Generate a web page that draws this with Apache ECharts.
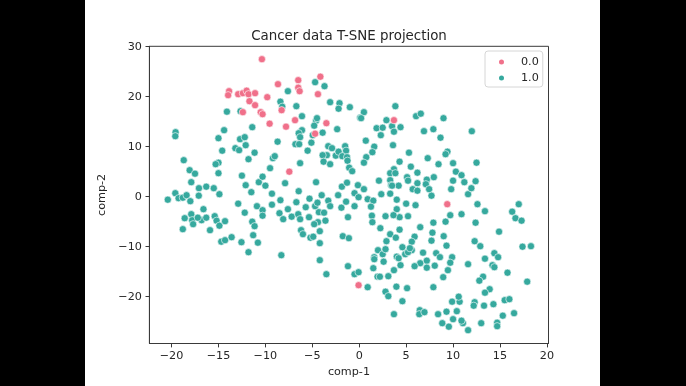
<!DOCTYPE html>
<html>
<head>
<meta charset="utf-8">
<script src="https://cdn.jsdelivr.net/npm/echarts@6/dist/echarts.min.js"></script>
<style>
html,body{margin:0;padding:0;background:#000;}
#wrap{position:absolute;left:85px;top:0;width:515px;height:386px;background:#fff;}
#chart{position:absolute;left:0;top:0;width:686px;height:386px;}
</style>
</head>
<body>
<div id="wrap"></div>
<div id="chart"></div>
<script>
const titleText = 'Cancer data T-SNE projection';
const xName = 'comp-1';
const yName = 'comp-2';
const legendNames = ['0.0', '1.0'];
const xTicks = [-20, -15, -10, -5, 0, 5, 10, 15, 20];
const yTicks = [-20, -10, 0, 10, 20, 30];

const class0 = [
[-10.37,27.5],[-13.87,21.1],[-13.97,20.3],[-12.9,20.5],[-12.4,20.7],[-12.0,21.2],[-11.8,20.5],[-11.1,20.7],
[-12.4,16.9],[-11.7,19.1],[-11.1,18.3],[-10.5,16.9],[-10.3,16.5],[-9.8,19.9],[-9.55,14.6],[-8.66,22.5],[-8.27,17.3],
[-7.8,14.0],[-6.5,23.3],[-6.5,21.8],[-6.35,21.1],[-6.84,15.3],[-7.45,5.0],[-4.14,24.0],[-4.4,20.5],[-4.7,12.6],
[-3.5,14.7],[3.7,15.3],[9.38,-1.5],[-0.07,-17.7]
];

const class1 = [
[-19.57,12.9],[-19.6,12.1],[-18.7,7.3],[-18.07,5.3],[-17.5,4.6],[-17.9,2.9],[-17.08,1.7],[-16.3,2.0],[-15.5,1.7],
[-14.1,17.0],[-14.4,13.3],[-15.0,11.7],[-14.6,9.2],[-15.0,6.8],[-15.3,6.5],[-15.0,4.7],
[-12.65,17.1],[-12.7,11.5],[-12.2,11.9],[-13.2,9.7],[-12.8,9.3],[-12.1,10.3],[-11.4,13.9],[-11.8,7.5],[-11.15,8.8],
[-12.5,4.2],[-12.1,2.3],[-10.7,2.9],[-10.3,4.0],[-10.0,2.2],[-9.5,5.7],[-9.2,7.7],[-9.0,8.1],[-8.7,11.0],
[-8.4,19.0],[-8.2,18.0],[-7.6,21.1],[-7.9,2.7],[-6.7,18.1],[-6.1,16.1],[-6.1,13.3],[-6.45,12.7],[-6.3,11.9],
[-6.8,10.5],[-6.4,10.5],[-6.3,6.7],[-5.5,9.2],[-5.1,10.8],[-4.95,12.3],[-4.6,2.9],[-4.7,22.9],[-3.7,22.1],
[-3.1,18.9],[-2.1,18.7],[-2.2,17.6],[-1.0,17.9],[-4.6,15.2],[-4.5,15.7],[-4.8,14.2],[-3.9,12.8],[-2.35,13.5],
[-3.3,10.1],[-2.9,9.7],[-3.45,8.3],[-3.9,8.3],[-3.8,7.0],[-3.1,6.5],[-2.5,8.2],[-2.2,9.0],[-1.5,10.1],[-1.4,9.2],
[-1.8,8.1],[-1.3,7.9],[-1.25,7.2],[-1.07,5.8],[-0.75,5.1],[-1.85,2.0],[-1.3,2.8],[-0.14,2.3],[0.1,15.8],
[3.85,18.1],[2.9,15.3],[3.5,14.1],[3.7,13.0],[4.4,13.9],[1.85,13.7],[2.5,13.8],[2.3,12.3],[0.5,16.9],[0.2,15.7],
[6.06,16.1],[6.56,16.6],[8.98,15.7],[6.9,13.1],[7.9,13.5],[8.66,11.8],[12.0,13.1],[0.7,11.2],[3.6,10.3],[1.6,10.0],
[1.4,8.9],[0.75,7.9],[0.5,6.8],[5.3,8.8],[4.3,7.0],[7.3,7.7],[9.4,9.0],[9.2,8.5],[8.45,6.5],[10.0,6.7],[12.5,6.8],
[5.5,6.0],[6.2,4.8],[3.7,5.5],[3.3,4.7],[3.85,4.7],[10.3,5.0],[10.9,4.3],[7.95,3.9],[2.1,3.2],[3.3,3.3],[3.4,2.3],
[4.2,2.2],[5.1,3.9],[7.2,3.4],[7.1,2.5],[6.2,2.7],[10.0,3.2],[11.2,2.9],[12.4,3.1],
[-20.4,-0.6],[-19.6,0.7],[-19.25,-0.3],[-18.8,-0.2],[-18.4,0.3],[-18.0,-0.9],[-17.1,0.2],[-14.9,0.5],
[-17.9,-3.5],[-18.6,-4.3],[-17.8,-4.7],[-17.7,-5.5],[-18.8,-6.5],[-16.6,-2.5],[-16.8,-4.7],[-17.2,-4.2],[-16.3,-4.2],
[-15.4,-3.9],[-15.2,-4.8],[-14.9,-5.8],[-15.9,-6.7],[-14.3,-4.9],[-14.7,-9.0],[-14.3,-8.7],[-13.6,-8.1],[-12.55,-9.1],
[-12.9,-1.4],[-12.2,-3.2],[-11.5,0.9],[-10.9,-1.9],[-10.3,-2.7],[-10.3,-3.8],[-11.4,-5.0],[-11.15,-5.9],[-11.3,-7.7],
[-10.8,-9.2],[-11.8,-11.1],[-9.3,0.6],[-9.3,-1.6],[-8.4,-0.7],[-8.5,-3.3],[-8.1,-4.5],[-7.6,-2.5],[-7.2,-4.0],
[-6.7,-1.1],[-6.5,-3.5],[-6.3,-4.5],[-6.45,1.1],[-5.7,-2.1],[-5.35,-4.1],[-5.3,-0.4],[-4.7,-1.9],[-4.45,-1.2],[-4.0,0.3],
[-4.3,-3.1],[-3.75,-3.2],[-4.4,-5.1],[-4.8,-5.5],[-3.6,-4.8],[-6.2,-6.7],[-6.0,-7.5],[-5.2,-8.2],[-4.9,-8.0],
[-4.2,-6.9],[-4.2,-9.3],[-4.2,-12.7],[-3.5,-15.5],[-8.3,-11.7],[-3.3,-0.8],[-3.1,-1.9],[-2.25,0.3],
[-1.9,-2.2],[-1.4,-1.0],[-1.2,-4.1],[-0.5,-1.9],[-0.5,0.7],[-0.07,-0.1],[-1.75,-7.9],[-1.1,-8.3],
[-1.2,-13.9],[-0.5,-15.5],[-0.07,-15.1],
[0.5,1.5],[3.5,2.2],[2.35,0.5],[3.3,0.6],[0.9,-0.5],[1.5,-0.8],[1.25,-2.0],[4.0,-0.6],[5.0,-1.4],[6.0,-1.7],[4.0,-2.5],
[1.35,-3.8],[1.4,-5.1],[2.8,-3.9],[4.3,-4.1],[5.2,-3.9],[3.65,-3.7],[5.2,3.2],[2.25,-6.3],[4.3,-6.6],[3.3,-7.5],[3.9,-8.2],[2.9,-8.9],
[4.6,-10.1],[4.9,-11.5],[5.6,-10.7],[5.2,-11.1],[2.0,-10.7],[2.5,-11.5],[2.8,-10.5],[1.6,-12.1],[1.6,-12.5],
[1.5,-14.3],[2.6,-13.0],[1.95,-16.0],[2.2,-16.0],[4.0,-12.0],[4.2,-12.3],[4.4,-13.7],[3.7,-14.7],[3.1,-15.9],
[0.9,-18.1],[2.8,-19.0],[3.1,-19.9],[3.96,-18.0],[5.1,-18.3],[4.6,-20.9],[3.7,-23.5],
[6.5,-6.1],[7.9,-5.2],[7.8,-7.2],[7.7,-8.8],[5.9,-8.0],[5.6,-9.0],[5.4,-10.3],
[6.8,-11.2],[7.2,-12.8],[6.5,-13.3],[5.9,-13.9],[7.2,-14.2],[7.9,-18.1],[8.2,-11.3],[8.6,-12.1],[8.05,-13.8],
[9.0,-7.9],[9.3,-9.8],[9.2,-5.0],[9.7,-3.7],[10.9,-3.5],[9.9,-12.1],[9.7,-13.2],[9.45,-14.7],[8.95,-16.1],
[11.6,-13.5],[12.4,-5.2],[12.6,-1.5],[13.4,-2.9],[12.3,-8.9],[12.9,-9.9],[13.4,-12.4],
[14.4,-11.3],[14.8,-12.1],[14.2,-13.7],[14.4,-14.1],[14.9,-7.0],[15.8,-15.2],[13.2,-16.0],[12.8,-16.8],[13.9,-18.5],[13.4,-19.2],
[16.3,-3.0],[16.65,-4.3],[17.3,-4.8],[17.0,-1.5],[17.4,-10.0],[18.3,-9.9],[17.9,-17.0],[15.5,-20.7],[16.0,-20.5],
[16.5,-23.3],[15.3,-23.8],[14.7,-25.2],[14.7,-25.9],[14.3,-21.5],[13.3,-21.8],[12.3,-21.1],[12.2,-21.8],[13.0,-25.3],
[11.6,-26.7],[11.05,-25.3],[10.9,-24.8],[10.4,-22.9],[9.9,-21.0],[10.7,-21.0],[10.6,-20.0],[10.0,-24.5],[9.55,-26.0],
[8.85,-25.3],[8.4,-23.5],[9.3,-23.0],[6.45,-22.7],[6.4,-23.5],[6.95,-23.1],
[5.7,1.5],[6.2,1.2],[7.45,1.5],[7.7,0.2],[9.8,1.5],[11.6,0.5],[11.95,1.7]
];

const FONT = 'DejaVu Sans';
const TXT = '#262626';
const AX = '#3a3a3a';
const minus = v => (v < 0 ? '\u2212' + Math.abs(v) : String(v));

const chart = echarts.init(document.getElementById('chart'), null, {renderer: 'canvas'});
chart.setOption({
  animation: false,
  backgroundColor: 'transparent',
  title: {
    text: titleText,
    left: 349, top: 30, padding: 0, textAlign: 'center',
    textStyle: {fontFamily: FONT, fontSize: 13.4, fontWeight: 'normal', color: TXT}
  },
  legend: {
    data: legendNames,
    orient: 'vertical',
    left: 485, top: 51,
    padding: [5, 4, 3, 12],
    itemGap: 4,
    itemWidth: 7, itemHeight: 7,
    icon: 'circle',
    borderColor: '#d6d6d6', borderWidth: 1, borderRadius: 3,
    backgroundColor: 'rgba(255,255,255,0.8)',
    textStyle: {fontFamily: FONT, fontSize: 11.2, color: TXT, lineHeight: 12, padding: [0, 0, 0, 11]}
  },
  grid: {
    left: 149.4, right: 137.5, top: 46.3, bottom: 42.5,
    show: true, borderColor: AX, borderWidth: 1, backgroundColor: 'transparent'
  },
  xAxis: {
    type: 'value', min: -22.36, max: 20.17,
    name: xName, nameLocation: 'middle', nameGap: 21,
    nameTextStyle: {fontFamily: FONT, fontSize: 11.2, color: TXT},
    axisLine: {show: true, onZero: false, lineStyle: {color: AX, width: 1}},
    axisTick: {show: true, length: 3.9, lineStyle: {color: AX, width: 1}, customValues: xTicks},
    axisLabel: {margin: 7.5, fontFamily: FONT, fontSize: 11.2, color: TXT, customValues: xTicks, formatter: minus},
    splitLine: {show: false}
  },
  yAxis: {
    type: 'value', min: -29.36, max: 30.08,
    name: yName, nameLocation: 'middle', nameGap: 25, nameRotate: 90,
    nameTextStyle: {fontFamily: FONT, fontSize: 11.2, color: TXT},
    axisLine: {show: true, onZero: false, lineStyle: {color: AX, width: 1}},
    axisTick: {show: true, length: 3.9, lineStyle: {color: AX, width: 1}, customValues: yTicks},
    axisLabel: {margin: 7.5, fontFamily: FONT, fontSize: 11.2, color: TXT, customValues: yTicks, formatter: minus},
    splitLine: {show: false}
  },
  series: [
    {
      name: legendNames[1], type: 'scatter', data: class1, symbolSize: 7.2, z: 2,
      itemStyle: {color: '#36a99e', borderColor: '#ffffff', borderWidth: 0.6, opacity: 1}
    },
    {
      name: legendNames[0], type: 'scatter', data: class0, symbolSize: 7.2, z: 3,
      itemStyle: {color: '#f0708a', borderColor: '#ffffff', borderWidth: 0.6, opacity: 1}
    }
  ]
});
</script>
</body>
</html>
